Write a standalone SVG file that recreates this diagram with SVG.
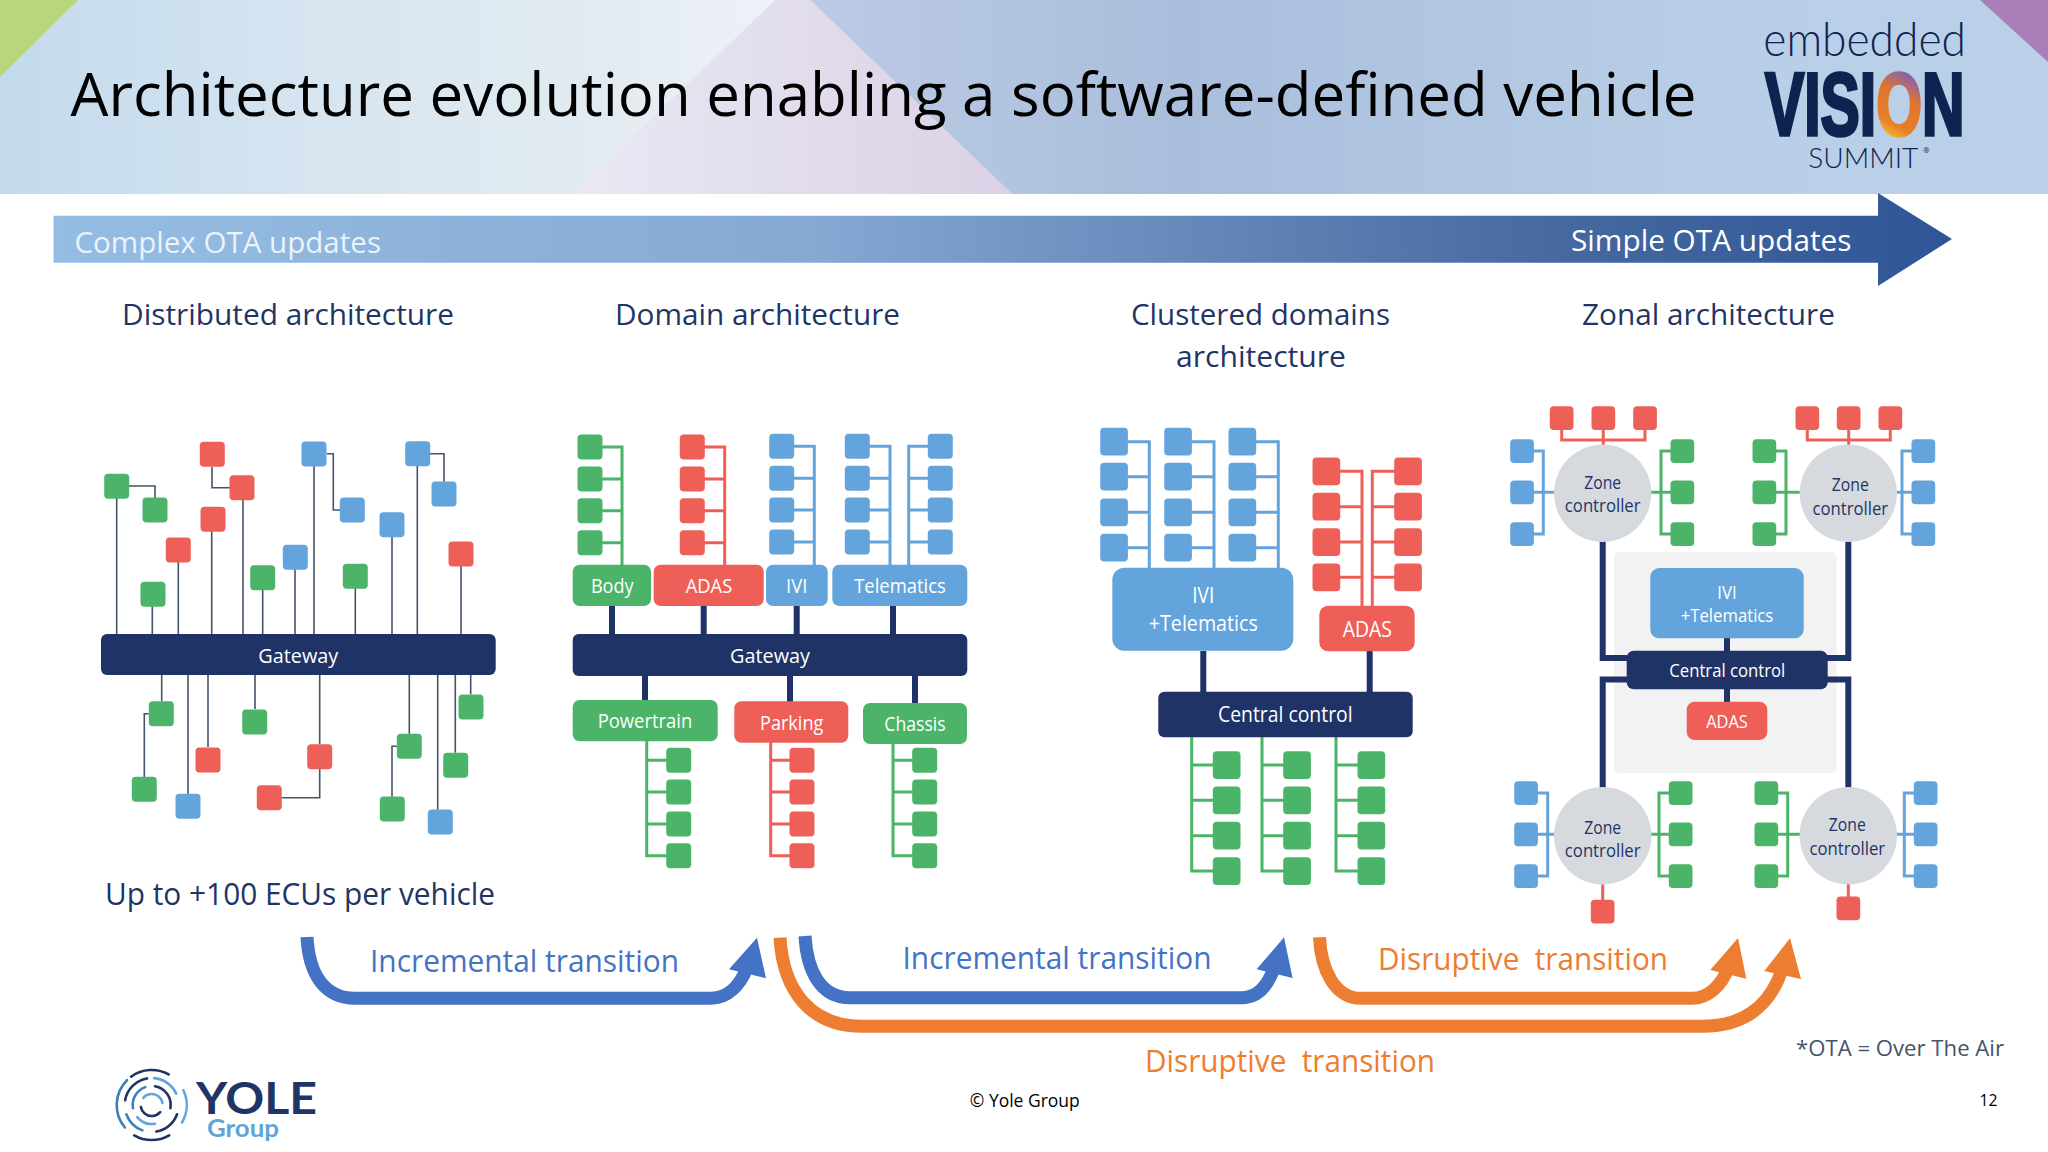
<svg xmlns="http://www.w3.org/2000/svg" width="2048" height="1152" viewBox="0 0 2048 1152">
<style>
text{font-family:"Open Sans","Noto Sans",sans-serif}
.c{text-anchor:middle}
.w{fill:#fff}
.n{fill:#1f3566}
.g{fill:#4bb469}.r{fill:#ee5f58}.b{fill:#64a4dc}.d{fill:#1f3366}
.e{rx:4px;ry:4px}
.thin,.bus,.thick,.sw{fill:none}
.thin{stroke:#44546a;stroke-width:1.6}
.bus{stroke-width:3}
.sg{stroke:#4bb469}.sr{stroke:#ee5f58}.sb{stroke:#64a4dc}
.thick{stroke:#1f3366;stroke-width:6}
.sw{stroke-width:13}
.zone{fill:#d6dadf}
.zt{fill:#1f3566;font-size:18.5px}
.inc{fill:#4472c4;font-size:31px}
.dis{fill:#ed7d31;font-size:31px;white-space:pre}
</style>
<defs>
<linearGradient id="hl" gradientUnits="userSpaceOnUse" x1="0" y1="0" x2="2048" y2="0"><stop offset="0" stop-color="#c3daed"/><stop offset=".15" stop-color="#d6e5f0"/><stop offset=".3" stop-color="#e3ebf1"/><stop offset=".38" stop-color="#eef2f9"/></linearGradient>
<linearGradient id="hb"><stop offset="0" stop-color="#bccae4"/><stop offset=".3" stop-color="#a9bedb"/><stop offset=".75" stop-color="#b9cfe7"/><stop offset="1" stop-color="#bad0e8"/></linearGradient>
<linearGradient id="hv"><stop offset="0" stop-color="#e9e8f3"/><stop offset="1" stop-color="#dbd1e6"/></linearGradient>
<linearGradient id="ar"><stop offset="0" stop-color="#95bde3"/><stop offset=".4" stop-color="#85a9d3"/><stop offset=".8" stop-color="#44689f"/><stop offset="1" stop-color="#2f5597"/></linearGradient>
<linearGradient id="vo" gradientUnits="userSpaceOnUse" x1="1925" y1="66" x2="1885" y2="138"><stop offset="0" stop-color="#1f7ea0"/><stop offset=".2" stop-color="#8a62a8"/><stop offset=".45" stop-color="#e0752e"/><stop offset=".8" stop-color="#e77f28"/><stop offset="1" stop-color="#f4c430"/></linearGradient>
</defs>

<rect x="0" y="0" width="2048" height="1152" fill="#fff"/>
<g id="header">
<rect x="0" y="0" width="2048" height="194" fill="url(#hl)"/>
<polygon points="775,0 810,0 1012,194 574,194" fill="url(#hv)"/>
<polygon points="810,0 2048,0 2048,194 1012,194" fill="url(#hb)"/>
<polygon points="0,0 78,0 0,77" fill="#b8d67c"/>
<polygon points="1980,0 2048,0 2048,62" fill="#a87fb8"/>
<text x="70.5" y="115.5" font-size="60" textLength="1626" lengthAdjust="spacingAndGlyphs" fill="#000">Architecture evolution enabling a software-defined vehicle</text>
</g>
<g id="logo-ev">
<text x="1763.3" y="56" font-size="48" textLength="202.7" lengthAdjust="spacingAndGlyphs" fill="#0f2350" style="font-family:Lato,'Open Sans',sans-serif;font-weight:300">embedded</text>
<text x="1765" y="134.5" font-size="89" textLength="199.5" lengthAdjust="spacingAndGlyphs" fill="#0f2350" stroke="#0f2350" stroke-width="3.5" style="font-family:'Liberation Sans',sans-serif;font-weight:700">VISI<tspan fill="url(#vo)" stroke="url(#vo)">O</tspan>N</text>
<text x="1808.3" y="168.3" font-size="28" textLength="110" lengthAdjust="spacingAndGlyphs" fill="#0f2350" style="font-family:Lato,'Open Sans',sans-serif;font-weight:300">SUMMIT</text>
<text x="1923" y="153" font-size="8" fill="#0f2350">®</text>
</g>
<g id="ota-arrow">
<polygon points="53.5,215.7 1878,215.7 1878,193 1952,239 1878,286 1878,262.7 53.5,262.7" fill="url(#ar)"/>
<text x="74.4" y="253.3" font-size="29" textLength="306.6" lengthAdjust="spacingAndGlyphs" fill="#eaf2fa">Complex OTA updates</text>
<text x="1571" y="251" font-size="29" textLength="280.5" lengthAdjust="spacingAndGlyphs" class="w">Simple OTA updates</text>
</g>
<g id="titles" class="n">
<text x="122" y="325.3" font-size="30" textLength="332" lengthAdjust="spacingAndGlyphs">Distributed architecture</text>
<text x="615" y="325.3" font-size="30" textLength="285" lengthAdjust="spacingAndGlyphs">Domain architecture</text>
<text x="1131" y="325.3" font-size="30" textLength="259" lengthAdjust="spacingAndGlyphs">Clustered domains</text>
<text x="1176" y="367" font-size="30" textLength="170" lengthAdjust="spacingAndGlyphs">architecture</text>
<text x="1582" y="325.3" font-size="30" textLength="253" lengthAdjust="spacingAndGlyphs">Zonal architecture</text>
<text x="105" y="905" font-size="31" textLength="390" lengthAdjust="spacingAndGlyphs">Up to +100 ECUs per vehicle</text>
</g>
<rect id="central-panel" x="1614" y="552.3" width="222.7" height="221" rx="5" fill="#f2f2f2"/>

<g id="connectors">
<path class="thin" d="M116.7,634V490M152.3,634V600M178.3,634V555M211.7,634V525M243,634V490M262.7,634V580M295,634V560M314,634V460M355.3,634V580M392,634V530M417.3,634V460M461,634V560M129,486H155V498M212,467V487.7H230M326.7,453.7H333.3V510H340M430,453.7H444V481.7"/>
<path class="thin" d="M161.7,675V701M188,675V794M208,675V747M255,675V709M319.7,675V744M409.3,675V733.7M437.7,675V809.7M455.3,675V752.7M470.7,675V694.3M148.8,713.7H144.3V777M319.7,769V797.7H282M396.8,746.3H392V796.7"/>
<path class="bus sg" d="M600,447H622V565M600,479H622M600,510.7H622M600,542.7H622"/>
<path class="bus sr" d="M702,447H724.7V565M702,479H724.7M702,510.7H724.7M702,542.7H724.7"/>
<path class="bus sb" d="M792,446.3H814.3V565M792,478.3H814.3M792,510H814.3M792,542H814.3M868,446.3H890V565M868,478.3H890M868,510H890M868,542H890M930,446.3H908.7V565M930,478.3H908.7M930,510H908.7M930,542H908.7"/>
<path class="bus sg" d="M646.7,741V855.7H668M646.7,760.3H668M646.7,792H668M646.7,824H668"/>
<path class="bus sr" d="M770.7,742V855.7H792M770.7,760.3H792M770.7,792H792M770.7,824H792"/>
<path class="bus sg" d="M893,743V855.7H914M893,760.3H914M893,792H914M893,824H914"/>
<path class="thick" d="M612,606V634M703.7,606V634M796.7,606V634M893,606V634M645,676V700M790,676V702M915,676V704"/>
<path class="bus sb" d="M1125,441.7H1149.3V568M1125,476.7H1149.3M1125,512.3H1149.3M1125,547.7H1149.3M1189,441.7H1214V568M1189,476.7H1214M1189,512.3H1214M1189,547.7H1214M1253,441.7H1278.3V568M1253,476.7H1278.3M1253,512.3H1278.3M1253,547.7H1278.3"/>
<path class="bus sr" d="M1337,471.3H1362V606M1337,506.7H1362M1337,542H1362M1337,577.3H1362M1397,471.3H1372.3V606M1397,506.7H1372.3M1397,542H1372.3M1397,577.3H1372.3"/>
<path class="thick" d="M1203.3,651V692M1369.7,651V692"/>
<path class="bus sg" d="M1191.7,737V871H1216M1191.7,765H1216M1191.7,800.3H1216M1191.7,835.7H1216M1262,737V871H1286M1262,765H1286M1262,800.3H1286M1262,835.7H1286M1336,737V871H1360M1336,765H1360M1336,800.3H1360M1336,835.7H1360"/>
<path class="bus sr" d="M1561.7,425V440H1645V425M1603.3,425V446M1807.3,425V440H1890.3V425M1848.7,425V446"/>
<path class="bus sb" d="M1530,451H1543.3V534H1530M1530,492.3H1556M1915,451H1902V534H1915M1895,492.3H1915M1535,793H1547.7V876H1535M1535,834.3H1556M1917,793H1904.3V876H1917M1895,834.3H1917"/>
<path class="bus sg" d="M1675,451H1661V534H1675M1650,492.3H1675M1772,451H1786V534H1772M1772,492.3H1800M1673,793H1659V876H1673M1650,834.3H1673M1773,793H1787.7V876H1773M1773,834.3H1800"/>
<path class="bus sr" d="M1602.7,884V902M1848.3,884V898"/>
<path class="thick" d="M1602.7,540V658H1627M1602.7,788V679.5H1627M1848.3,540V658H1827M1848.3,788V679.5H1827M1727,638V651M1727,689V702"/>
<path class="sw" style="stroke:#4472c4" d="M307,937C309,975 325,998.3 355,998.3H711C728,998.3 740,985 747,968"/>
<polygon fill="#4472c4" points="757,937.7 729,969.3 766,978.3"/>
<path class="sw" style="stroke:#ed7d31" d="M780,937.7C783,990 810,1026.3 862,1026.3H1702C1745,1026.3 1770,1005 1782,970"/>
<polygon fill="#ed7d31" points="1790,938.3 1764.3,971 1801,979"/>
<path class="sw" style="stroke:#4472c4" d="M805,936C807,970 820,997.7 850,997.7H1242C1258,997.7 1268,985 1274,968"/>
<polygon fill="#4472c4" points="1284,937.3 1256.6,969.3 1292.6,978"/>
<path class="sw" style="stroke:#ed7d31" d="M1319.5,937.3C1321,970 1335,998.3 1361,998.3H1692C1708,998.3 1722,985 1728,968"/>
<polygon fill="#ed7d31" points="1738,938 1710.3,970 1746.3,978.7"/>
</g>

<g id="distributed-ecus">
<g id="d1"><rect class="e g" x="104.2" y="473.8" width="25" height="25"/></g>
<g id="d2"><rect class="e g" x="142.5" y="497.5" width="25" height="25"/></g>
<g id="d3"><rect class="e r" x="199.8" y="441.8" width="25" height="25"/></g>
<g id="d4"><rect class="e r" x="229.5" y="475.2" width="25" height="25"/></g>
<g id="d5"><rect class="e r" x="200.5" y="506.8" width="25" height="25"/></g>
<g id="d6"><rect class="e r" x="165.8" y="537.5" width="25" height="25"/></g>
<g id="d7"><rect class="e g" x="140.5" y="581.8" width="25" height="25"/></g>
<g id="d8"><rect class="e g" x="250.2" y="565.2" width="25" height="25"/></g>
<g id="d9"><rect class="e b" x="301.5" y="441.5" width="25" height="25"/></g>
<g id="d10"><rect class="e b" x="339.8" y="497.5" width="25" height="25"/></g>
<g id="d11"><rect class="e b" x="282.8" y="544.8" width="25" height="25"/></g>
<g id="d12"><rect class="e g" x="342.8" y="563.8" width="25" height="25"/></g>
<g id="d13"><rect class="e b" x="379.5" y="512.2" width="25" height="25"/></g>
<g id="d14"><rect class="e b" x="405.2" y="441.2" width="25" height="25"/></g>
<g id="d15"><rect class="e b" x="431.5" y="481.5" width="25" height="25"/></g>
<g id="d16"><rect class="e r" x="448.5" y="541.5" width="25" height="25"/></g>
<g id="d17"><rect class="e g" x="148.8" y="701.2" width="25" height="25"/></g>
<g id="d18"><rect class="e g" x="131.8" y="776.8" width="25" height="25"/></g>
<g id="d19"><rect class="e b" x="175.5" y="793.8" width="25" height="25"/></g>
<g id="d20"><rect class="e r" x="195.5" y="747.5" width="25" height="25"/></g>
<g id="d21"><rect class="e g" x="242.2" y="709.5" width="25" height="25"/></g>
<g id="d22"><rect class="e r" x="307.2" y="744.2" width="25" height="25"/></g>
<g id="d23"><rect class="e r" x="256.8" y="785.2" width="25" height="25"/></g>
<g id="d24"><rect class="e g" x="396.8" y="733.8" width="25" height="25"/></g>
<g id="d25"><rect class="e g" x="379.8" y="796.5" width="25" height="25"/></g>
<g id="d26"><rect class="e b" x="427.8" y="809.5" width="25" height="25"/></g>
<g id="d27"><rect class="e g" x="443.2" y="752.8" width="25" height="25"/></g>
<g id="d28"><rect class="e g" x="458.5" y="694.5" width="25" height="25"/></g>
</g>
<g id="gateway-1"><rect class="d" x="101" y="634" width="394.7" height="41" rx="6"/><text class="c w" x="298.3" y="662.7" font-size="20" textLength="80" lengthAdjust="spacingAndGlyphs">Gateway</text></g>

<g id="domain-ecus">
<g id="m1"><rect class="e g" x="577.5" y="434.5" width="25" height="25"/></g>
<g id="m2"><rect class="e g" x="577.5" y="466.5" width="25" height="25"/></g>
<g id="m3"><rect class="e g" x="577.5" y="498.2" width="25" height="25"/></g>
<g id="m4"><rect class="e g" x="577.5" y="530.2" width="25" height="25"/></g>
<g id="m5"><rect class="e r" x="679.8" y="434.5" width="25" height="25"/></g>
<g id="m6"><rect class="e r" x="679.8" y="466.5" width="25" height="25"/></g>
<g id="m7"><rect class="e r" x="679.8" y="498.2" width="25" height="25"/></g>
<g id="m8"><rect class="e r" x="679.8" y="530.2" width="25" height="25"/></g>
<g id="m9"><rect class="e b" x="769.2" y="433.8" width="25" height="25"/></g>
<g id="m10"><rect class="e b" x="769.2" y="465.8" width="25" height="25"/></g>
<g id="m11"><rect class="e b" x="769.2" y="497.5" width="25" height="25"/></g>
<g id="m12"><rect class="e b" x="769.2" y="529.5" width="25" height="25"/></g>
<g id="m13"><rect class="e b" x="844.8" y="433.8" width="25" height="25"/></g>
<g id="m14"><rect class="e b" x="844.8" y="465.8" width="25" height="25"/></g>
<g id="m15"><rect class="e b" x="844.8" y="497.5" width="25" height="25"/></g>
<g id="m16"><rect class="e b" x="844.8" y="529.5" width="25" height="25"/></g>
<g id="m17"><rect class="e b" x="927.8" y="433.8" width="25" height="25"/></g>
<g id="m18"><rect class="e b" x="927.8" y="465.8" width="25" height="25"/></g>
<g id="m19"><rect class="e b" x="927.8" y="497.5" width="25" height="25"/></g>
<g id="m20"><rect class="e b" x="927.8" y="529.5" width="25" height="25"/></g>
<g id="m21"><rect class="e g" x="666.2" y="747.8" width="25" height="25"/></g>
<g id="m22"><rect class="e g" x="666.2" y="779.5" width="25" height="25"/></g>
<g id="m23"><rect class="e g" x="666.2" y="811.5" width="25" height="25"/></g>
<g id="m24"><rect class="e g" x="666.2" y="843.2" width="25" height="25"/></g>
<g id="m25"><rect class="e r" x="789.5" y="747.8" width="25" height="25"/></g>
<g id="m26"><rect class="e r" x="789.5" y="779.5" width="25" height="25"/></g>
<g id="m27"><rect class="e r" x="789.5" y="811.5" width="25" height="25"/></g>
<g id="m28"><rect class="e r" x="789.5" y="843.2" width="25" height="25"/></g>
<g id="m29"><rect class="e g" x="912.2" y="747.8" width="25" height="25"/></g>
<g id="m30"><rect class="e g" x="912.2" y="779.5" width="25" height="25"/></g>
<g id="m31"><rect class="e g" x="912.2" y="811.5" width="25" height="25"/></g>
<g id="m32"><rect class="e g" x="912.2" y="843.2" width="25" height="25"/></g>
</g>
<g id="body"><rect class="g" x="572.7" y="564.7" width="78.3" height="41.3" rx="7"/><text class="c w" x="612.3" y="593.3" font-size="20" textLength="42.7" lengthAdjust="spacingAndGlyphs">Body</text></g>
<g id="adas-2"><rect class="r" x="653.7" y="564.7" width="110" height="41.3" rx="7"/><text class="c w" x="709" y="593.3" font-size="20" textLength="46.3" lengthAdjust="spacingAndGlyphs">ADAS</text></g>
<g id="ivi-2"><rect class="b" x="766" y="564.7" width="61.7" height="41.3" rx="7"/><text class="c w" x="796.7" y="593.3" font-size="20" textLength="21.3" lengthAdjust="spacingAndGlyphs">IVI</text></g>
<g id="telematics-2"><rect class="b" x="832.3" y="564.7" width="135" height="41.3" rx="7"/><text class="c w" x="900" y="593.3" font-size="20" textLength="91.7" lengthAdjust="spacingAndGlyphs">Telematics</text></g>
<g id="gateway-2"><rect class="d" x="572.7" y="634" width="394.6" height="42" rx="6"/><text class="c w" x="770" y="662.7" font-size="20" textLength="80" lengthAdjust="spacingAndGlyphs">Gateway</text></g>
<g id="powertrain"><rect class="g" x="572.7" y="700" width="145" height="41.3" rx="7"/><text class="c w" x="645" y="728.3" font-size="20" textLength="94.7" lengthAdjust="spacingAndGlyphs">Powertrain</text></g>
<g id="parking"><rect class="r" x="734.3" y="701.3" width="114" height="41.4" rx="7"/><text class="c w" x="791.7" y="730" font-size="20" textLength="63.3" lengthAdjust="spacingAndGlyphs">Parking</text></g>
<g id="chassis"><rect class="g" x="863" y="703" width="104" height="41" rx="7"/><text class="c w" x="915" y="731" font-size="20" textLength="61.3" lengthAdjust="spacingAndGlyphs">Chassis</text></g>

<g id="clustered-ecus">
<g id="c1"><rect class="e b" x="1100.2" y="427.8" width="27.7" height="27.7"/></g>
<g id="c2"><rect class="e b" x="1100.2" y="462.8" width="27.7" height="27.7"/></g>
<g id="c3"><rect class="e b" x="1100.2" y="498.5" width="27.7" height="27.7"/></g>
<g id="c4"><rect class="e b" x="1100.2" y="533.8" width="27.7" height="27.7"/></g>
<g id="c5"><rect class="e b" x="1164.2" y="427.8" width="27.7" height="27.7"/></g>
<g id="c6"><rect class="e b" x="1164.2" y="462.8" width="27.7" height="27.7"/></g>
<g id="c7"><rect class="e b" x="1164.2" y="498.5" width="27.7" height="27.7"/></g>
<g id="c8"><rect class="e b" x="1164.2" y="533.8" width="27.7" height="27.7"/></g>
<g id="c9"><rect class="e b" x="1228.5" y="427.8" width="27.7" height="27.7"/></g>
<g id="c10"><rect class="e b" x="1228.5" y="462.8" width="27.7" height="27.7"/></g>
<g id="c11"><rect class="e b" x="1228.5" y="498.5" width="27.7" height="27.7"/></g>
<g id="c12"><rect class="e b" x="1228.5" y="533.8" width="27.7" height="27.7"/></g>
<g id="c13"><rect class="e r" x="1312.5" y="457.5" width="27.7" height="27.7"/></g>
<g id="c14"><rect class="e r" x="1312.5" y="492.8" width="27.7" height="27.7"/></g>
<g id="c15"><rect class="e r" x="1312.5" y="528.2" width="27.7" height="27.7"/></g>
<g id="c16"><rect class="e r" x="1312.5" y="563.5" width="27.7" height="27.7"/></g>
<g id="c17"><rect class="e r" x="1394.2" y="457.5" width="27.7" height="27.7"/></g>
<g id="c18"><rect class="e r" x="1394.2" y="492.8" width="27.7" height="27.7"/></g>
<g id="c19"><rect class="e r" x="1394.2" y="528.2" width="27.7" height="27.7"/></g>
<g id="c20"><rect class="e r" x="1394.2" y="563.5" width="27.7" height="27.7"/></g>
<g id="c21"><rect class="e g" x="1212.8" y="751.2" width="27.7" height="27.7"/></g>
<g id="c22"><rect class="e g" x="1212.8" y="786.5" width="27.7" height="27.7"/></g>
<g id="c23"><rect class="e g" x="1212.8" y="821.8" width="27.7" height="27.7"/></g>
<g id="c24"><rect class="e g" x="1212.8" y="857.2" width="27.7" height="27.7"/></g>
<g id="c25"><rect class="e g" x="1283.2" y="751.2" width="27.7" height="27.7"/></g>
<g id="c26"><rect class="e g" x="1283.2" y="786.5" width="27.7" height="27.7"/></g>
<g id="c27"><rect class="e g" x="1283.2" y="821.8" width="27.7" height="27.7"/></g>
<g id="c28"><rect class="e g" x="1283.2" y="857.2" width="27.7" height="27.7"/></g>
<g id="c29"><rect class="e g" x="1357.5" y="751.2" width="27.7" height="27.7"/></g>
<g id="c30"><rect class="e g" x="1357.5" y="786.5" width="27.7" height="27.7"/></g>
<g id="c31"><rect class="e g" x="1357.5" y="821.8" width="27.7" height="27.7"/></g>
<g id="c32"><rect class="e g" x="1357.5" y="857.2" width="27.7" height="27.7"/></g>
</g>
<g id="ivi-telematics-3"><rect class="b" x="1112.3" y="567.7" width="181" height="83" rx="12"/><text class="c w" x="1203.3" y="603.3" font-size="21" textLength="22" lengthAdjust="spacingAndGlyphs">IVI</text><text class="c w" x="1203.3" y="630.5" font-size="21" textLength="109" lengthAdjust="spacingAndGlyphs">+Telematics</text></g>
<g id="adas-3"><rect class="r" x="1319.3" y="605.7" width="95.4" height="45.6" rx="9"/><text class="c w" x="1367.3" y="636.7" font-size="21" textLength="49.3" lengthAdjust="spacingAndGlyphs">ADAS</text></g>
<g id="central-3"><rect class="d" x="1158.3" y="691.7" width="254.4" height="45.6" rx="6"/><text class="c w" x="1285.3" y="722.3" font-size="21" textLength="134.7" lengthAdjust="spacingAndGlyphs">Central control</text></g>

<g id="zonal-ecus">
<g id="z1"><rect class="e r" x="1549.8" y="406.2" width="23.7" height="23.7"/></g>
<g id="z2"><rect class="e r" x="1591.5" y="406.2" width="23.7" height="23.7"/></g>
<g id="z3"><rect class="e r" x="1633.2" y="406.2" width="23.7" height="23.7"/></g>
<g id="z4"><rect class="e b" x="1510.2" y="439.2" width="23.7" height="23.7"/></g>
<g id="z5"><rect class="e b" x="1510.2" y="480.5" width="23.7" height="23.7"/></g>
<g id="z6"><rect class="e b" x="1510.2" y="522.2" width="23.7" height="23.7"/></g>
<g id="z7"><rect class="e g" x="1670.5" y="439.2" width="23.7" height="23.7"/></g>
<g id="z8"><rect class="e g" x="1670.5" y="480.5" width="23.7" height="23.7"/></g>
<g id="z9"><rect class="e g" x="1670.5" y="522.2" width="23.7" height="23.7"/></g>
<g id="z10"><rect class="e r" x="1795.5" y="406.2" width="23.7" height="23.7"/></g>
<g id="z11"><rect class="e r" x="1836.8" y="406.2" width="23.7" height="23.7"/></g>
<g id="z12"><rect class="e r" x="1878.5" y="406.2" width="23.7" height="23.7"/></g>
<g id="z13"><rect class="e g" x="1752.5" y="439.2" width="23.7" height="23.7"/></g>
<g id="z14"><rect class="e g" x="1752.5" y="480.5" width="23.7" height="23.7"/></g>
<g id="z15"><rect class="e g" x="1752.5" y="522.2" width="23.7" height="23.7"/></g>
<g id="z16"><rect class="e b" x="1911.5" y="439.2" width="23.7" height="23.7"/></g>
<g id="z17"><rect class="e b" x="1911.5" y="480.5" width="23.7" height="23.7"/></g>
<g id="z18"><rect class="e b" x="1911.5" y="522.2" width="23.7" height="23.7"/></g>
<g id="z19"><rect class="e b" x="1514.2" y="781.2" width="23.7" height="23.7"/></g>
<g id="z20"><rect class="e b" x="1514.2" y="822.5" width="23.7" height="23.7"/></g>
<g id="z21"><rect class="e b" x="1514.2" y="864.2" width="23.7" height="23.7"/></g>
<g id="z22"><rect class="e g" x="1668.8" y="781.2" width="23.7" height="23.7"/></g>
<g id="z23"><rect class="e g" x="1668.8" y="822.5" width="23.7" height="23.7"/></g>
<g id="z24"><rect class="e g" x="1668.8" y="864.2" width="23.7" height="23.7"/></g>
<g id="z25"><rect class="e g" x="1754.5" y="781.2" width="23.7" height="23.7"/></g>
<g id="z26"><rect class="e g" x="1754.5" y="822.5" width="23.7" height="23.7"/></g>
<g id="z27"><rect class="e g" x="1754.5" y="864.2" width="23.7" height="23.7"/></g>
<g id="z28"><rect class="e b" x="1913.8" y="781.2" width="23.7" height="23.7"/></g>
<g id="z29"><rect class="e b" x="1913.8" y="822.5" width="23.7" height="23.7"/></g>
<g id="z30"><rect class="e b" x="1913.8" y="864.2" width="23.7" height="23.7"/></g>
<g id="z31"><rect class="e r" x="1590.8" y="899.8" width="23.7" height="23.7"/></g>
<g id="z32"><rect class="e r" x="1836.5" y="896.5" width="23.7" height="23.7"/></g>
</g>
<g id="zone-tl"><circle class="zone" cx="1602.7" cy="493.3" r="48.7"/><text class="c zt" x="1602.7" y="489.3" textLength="37" lengthAdjust="spacingAndGlyphs">Zone</text><text class="c zt" x="1602.7" y="512.3" textLength="75.7" lengthAdjust="spacingAndGlyphs">controller</text></g>
<g id="zone-tr"><circle class="zone" cx="1848.3" cy="493.3" r="48.7"/><text class="c zt" x="1850.3" y="491" textLength="37" lengthAdjust="spacingAndGlyphs">Zone</text><text class="c zt" x="1850.3" y="515" textLength="75.7" lengthAdjust="spacingAndGlyphs">controller</text></g>
<g id="zone-bl"><circle class="zone" cx="1602.7" cy="835.7" r="48.7"/><text class="c zt" x="1602.7" y="834.3" textLength="37" lengthAdjust="spacingAndGlyphs">Zone</text><text class="c zt" x="1602.7" y="857.3" textLength="75.7" lengthAdjust="spacingAndGlyphs">controller</text></g>
<g id="zone-br"><circle class="zone" cx="1848.3" cy="835.7" r="48.7"/><text class="c zt" x="1847.3" y="831.3" textLength="37" lengthAdjust="spacingAndGlyphs">Zone</text><text class="c zt" x="1847.3" y="855" textLength="75.7" lengthAdjust="spacingAndGlyphs">controller</text></g>
<g id="ivi-telematics-4"><rect class="b" x="1650.3" y="568" width="153.4" height="70.3" rx="9"/><text class="c w" x="1727" y="599" font-size="18" textLength="19.3" lengthAdjust="spacingAndGlyphs">IVI</text><text class="c w" x="1727" y="621.7" font-size="18" textLength="92.7" lengthAdjust="spacingAndGlyphs">+Telematics</text></g>
<g id="central-4"><rect class="d" x="1626.7" y="650.7" width="201" height="38.6" rx="7"/><text class="c w" x="1727.3" y="676.7" font-size="18" textLength="116" lengthAdjust="spacingAndGlyphs">Central control</text></g>
<g id="adas-4"><rect class="r" x="1686.7" y="701.7" width="80.6" height="38.3" rx="8"/><text class="c w" x="1727" y="727.7" font-size="18" textLength="41.7" lengthAdjust="spacingAndGlyphs">ADAS</text></g>

<g id="transition-labels">
<text class="inc" x="370" y="972" textLength="309" lengthAdjust="spacingAndGlyphs">Incremental transition</text>
<text class="inc" x="902.5" y="969" textLength="309" lengthAdjust="spacingAndGlyphs">Incremental transition</text>
<text class="dis" x="1378" y="970.3" textLength="290" lengthAdjust="spacingAndGlyphs">Disruptive  transition</text>
<text class="dis" x="1145" y="1071.7" textLength="290" lengthAdjust="spacingAndGlyphs">Disruptive  transition</text>
</g>
<g id="footer">
<text x="1796" y="1055.7" font-size="22" textLength="208" lengthAdjust="spacingAndGlyphs" fill="#44546a">*OTA = Over The Air</text>
<text x="969.8" y="1107" font-size="17.5" textLength="110" lengthAdjust="spacingAndGlyphs" fill="#000">© Yole Group</text>
<text x="1979.6" y="1105.7" font-size="17" textLength="18" lengthAdjust="spacingAndGlyphs" fill="#000">12</text>
</g>
<g id="logo-yole" fill="none" stroke-linecap="round">
<circle cx="151.7" cy="1105" r="35" pathLength="360" stroke-dasharray="65 360" transform="rotate(234 151.7 1105)" stroke="#1f3566" stroke-width="2.6"/>
<circle cx="151.7" cy="1105" r="35" pathLength="360" stroke-dasharray="60 360" transform="rotate(60 151.7 1105)" stroke="#1f3566" stroke-width="2.6"/>
<circle cx="151.7" cy="1105" r="35" pathLength="360" stroke-dasharray="55 360" transform="rotate(-25 151.7 1105)" stroke="#64a4dc" stroke-width="2.6"/>
<circle cx="151.7" cy="1105" r="35" pathLength="360" stroke-dasharray="85 360" transform="rotate(140 151.7 1105)" stroke="#3f7fb8" stroke-width="2.6"/>
<circle cx="151.7" cy="1105" r="27" pathLength="360" stroke-dasharray="70 360" transform="rotate(190 151.7 1105)" stroke="#1f3566" stroke-width="2.6"/>
<circle cx="151.7" cy="1105" r="27" pathLength="360" stroke-dasharray="60 360" transform="rotate(275 151.7 1105)" stroke="#64a4dc" stroke-width="2.6"/>
<circle cx="151.7" cy="1105" r="27" pathLength="360" stroke-dasharray="60 360" transform="rotate(20 151.7 1105)" stroke="#1f3566" stroke-width="2.6"/>
<circle cx="151.7" cy="1105" r="27" pathLength="360" stroke-dasharray="50 360" transform="rotate(110 151.7 1105)" stroke="#3f7fb8" stroke-width="2.6"/>
<circle cx="151.7" cy="1105" r="19" pathLength="360" stroke-dasharray="80 360" transform="rotate(170 151.7 1105)" stroke="#3f7fb8" stroke-width="2.6"/>
<circle cx="151.7" cy="1105" r="19" pathLength="360" stroke-dasharray="90 360" transform="rotate(280 151.7 1105)" stroke="#1f3566" stroke-width="2.6"/>
<circle cx="151.7" cy="1105" r="19" pathLength="360" stroke-dasharray="60 360" transform="rotate(80 151.7 1105)" stroke="#64a4dc" stroke-width="2.6"/>
<circle cx="151.7" cy="1105" r="11" pathLength="360" stroke-dasharray="130 360" transform="rotate(220 151.7 1105)" stroke="#64a4dc" stroke-width="2.6"/>
<circle cx="151.7" cy="1105" r="11" pathLength="360" stroke-dasharray="130 360" transform="rotate(40 151.7 1105)" stroke="#1f3566" stroke-width="2.6"/>
<text x="196" y="1113.5" font-size="43" textLength="121" lengthAdjust="spacingAndGlyphs" fill="#1f3566" stroke="none" style="font-family:Lato,'Open Sans',sans-serif;font-weight:700">YOLE</text>
<text x="207" y="1137" font-size="24" textLength="72" lengthAdjust="spacingAndGlyphs" fill="#5fa3d9" stroke="none" style="font-family:Lato,'Open Sans',sans-serif;font-weight:700">Group</text>
</g>
</svg>
